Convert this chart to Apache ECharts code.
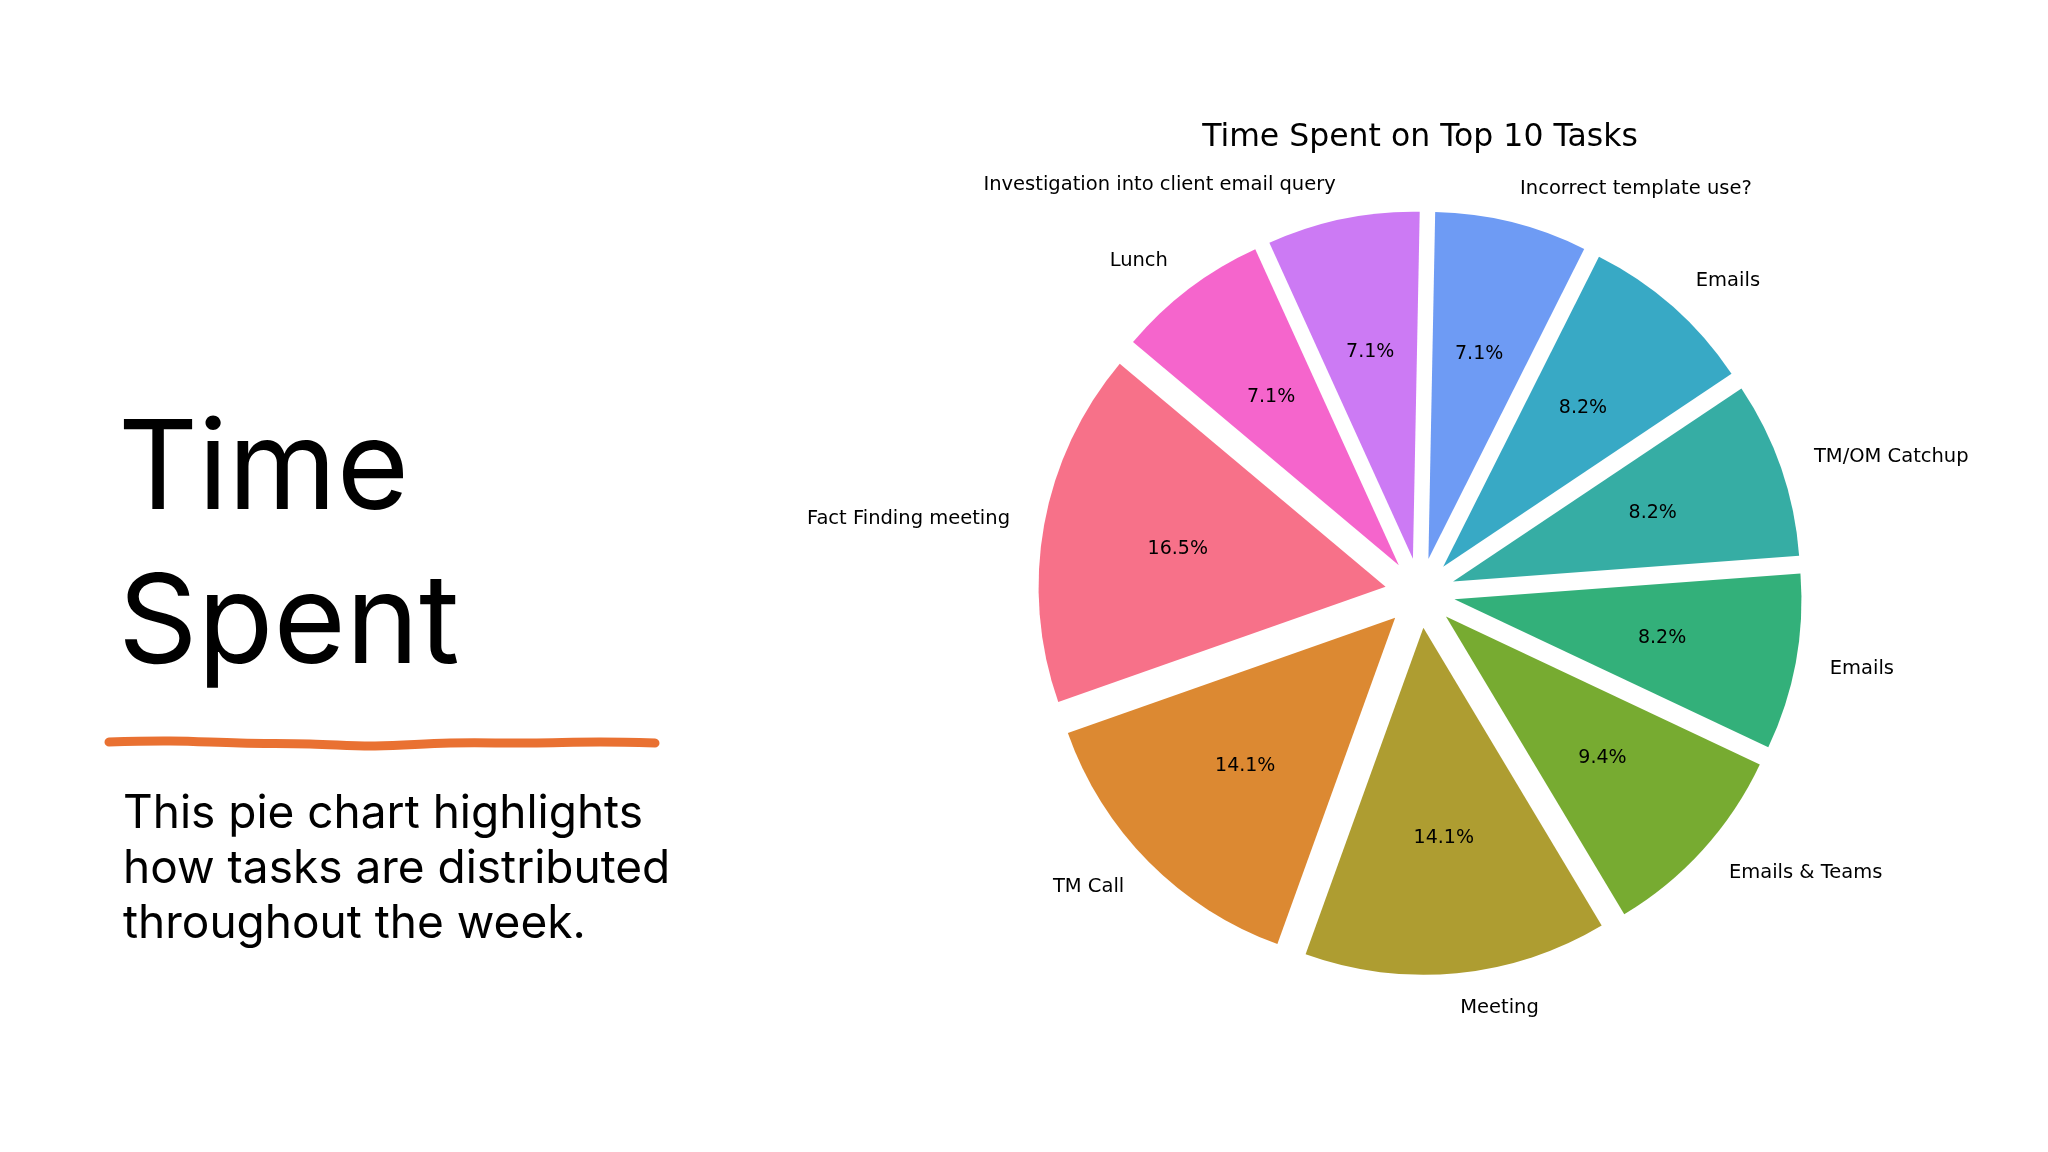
<!DOCTYPE html>
<html>
<head>
<meta charset="utf-8">
<script src="https://cdn.jsdelivr.net/npm/echarts@6/dist/echarts.min.js"></script>
<style>
  html, body { margin: 0; padding: 0; background: #ffffff; }
  #chart { width: 2048px; height: 1152px; }
</style>
</head>
<body>
<div id="chart"></div>
<script>
// ---- data ----
const taskNames = [
  'Fact Finding meeting', 'TM Call', 'Meeting', 'Emails & Teams', 'Emails',
  'TM/OM Catchup', 'Emails', 'Incorrect template use?',
  'Investigation into client email query', 'Lunch'
];
const taskShares = [16.5, 14.1, 14.1, 9.4, 8.2, 8.2, 8.2, 7.1, 7.1, 7.1];
const taskColors = [
  '#f77189', '#dc8932', '#ae9d31', '#77ab31', '#33b07a',
  '#36ada4', '#38a9c5', '#6e9bf4', '#cc7af4', '#f565cc'
];
const chartTitle = 'Time Spent on Top 10 Tasks';
const slideHeading = ['Time', 'Spent'];
const slideBody = ['This pie chart highlights', 'how tasks are distributed', 'throughout the week.'];

// ---- layout ----
const CX = 1420, CY = 593, R = 347, EXPLODE = 35;
const LABEL_FONT = 'DejaVu Sans';

const sliceData = taskNames.map((n, i) => ({
  name: n,
  value: taskShares[i],
  selected: true,
  itemStyle: { color: taskColors[i] }
}));
const pctData = taskNames.map((n, i) => ({
  name: n,
  value: taskShares[i],
  selected: true
}));

const chart = echarts.init(document.getElementById('chart'), null, { renderer: 'canvas' });

const option = {
  backgroundColor: '#ffffff',
  animation: false,
  title: {
    text: chartTitle,
    left: CX - 5,
    top: 117,
    textAlign: 'center',
    textStyle: { fontFamily: LABEL_FONT, fontSize: 31.5, fontWeight: 'normal', color: '#000' }
  },
  graphic: [
    { type: 'text', x: 118, y: 472, style: { text: slideHeading[0], font: '400 124px Inter', fill: '#000', verticalAlign: 'middle' } },
    { type: 'text', x: 118, y: 626, style: { text: slideHeading[1], font: '400 124px Inter', fill: '#000', verticalAlign: 'middle' } },
    { type: 'text', x: 123, y: 814, style: { text: slideBody[0], font: '400 46px Inter', fill: '#000', verticalAlign: 'middle' } },
    { type: 'text', x: 123, y: 869, style: { text: slideBody[1], font: '400 46px Inter', fill: '#000', verticalAlign: 'middle' } },
    { type: 'text', x: 123, y: 924, style: { text: slideBody[2], font: '400 46px Inter', fill: '#000', verticalAlign: 'middle' } },
    {
      type: 'polyline',
      shape: {
        points: [[109, 742], [170, 741], [240, 743], [310, 744], [375, 746], [450, 743], [530, 743], [600, 742], [655, 743]],
        smooth: 0.4
      },
      style: { stroke: '#e97132', lineWidth: 9, lineCap: 'round', lineJoin: 'round', fill: null }
    }
  ],
  series: [
    {
      type: 'pie',
      center: [CX, CY],
      radius: R,
      startAngle: 140,
      clockwise: false,
      selectedMode: 'multiple',
      selectedOffset: EXPLODE,
      avoidLabelOverlap: false,
      emphasis: { disabled: true },
      itemStyle: { borderWidth: 0 },
      label: {
        show: true,
        position: 'outside',
        formatter: '{b}',
        fontFamily: LABEL_FONT,
        fontSize: 19.5,
        color: '#000',
        distanceToLabelLine: 0
      },
      labelLine: { show: false, length: 0.1 * R, length2: 0 },
      data: sliceData
    },
    {
      type: 'pie',
      center: [CX, CY],
      radius: 1.2 * R,
      startAngle: 140,
      clockwise: false,
      selectedMode: 'multiple',
      selectedOffset: EXPLODE,
      percentPrecision: 1,
      silent: true,
      emphasis: { disabled: true },
      itemStyle: { color: 'rgba(0,0,0,0)', borderWidth: 0 },
      label: {
        show: true,
        position: 'inside',
        formatter: '{d}%',
        fontFamily: LABEL_FONT,
        fontSize: 19,
        color: '#000'
      },
      labelLine: { show: false },
      data: pctData
    }
  ]
};
chart.setOption(option);
</script>
</body>
</html>
